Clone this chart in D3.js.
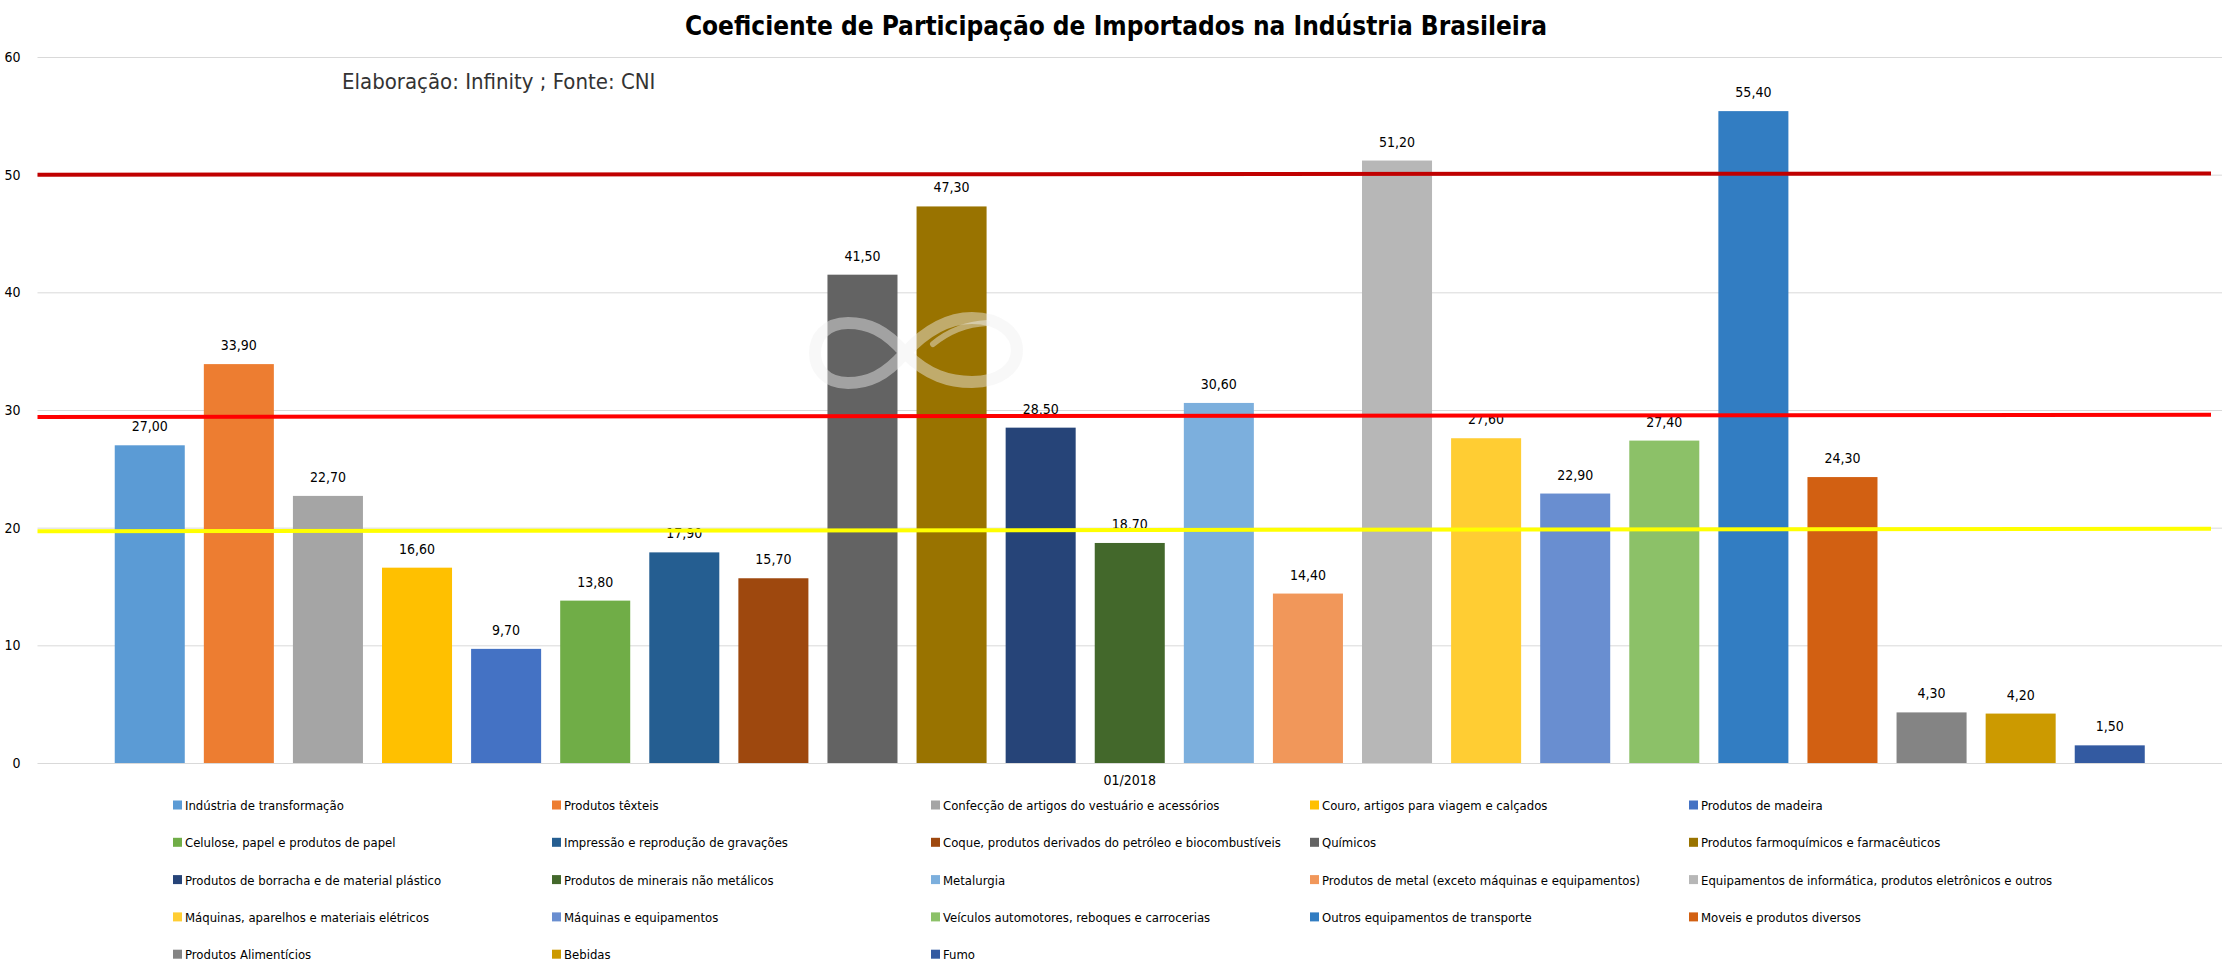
<!DOCTYPE html>
<html>
<head>
  <meta charset="utf-8">
  <title>Coeficiente de Participação de Importados</title>
  <script src="https://d3js.org/d3.v7.min.js"></script>
  <style>
    body { margin: 0; background: #fff; }
    text { font-family: "Liberation Sans Narrow", "DejaVu Sans Condensed", "Open Sans", sans-serif; }
  </style>
</head>
<body>
  <script>
    // data
    var categories = ["01/2018"];
    var seriesNames = [
      "Indústria de transformação", "Produtos têxteis", "Confecção de artigos do vestuário e acessórios",
      "Couro, artigos para viagem e calçados", "Produtos de madeira", "Celulose, papel e produtos de papel",
      "Impressão e reprodução de gravações", "Coque, produtos derivados do petróleo e biocombustíveis",
      "Químicos", "Produtos farmoquímicos e farmacêuticos", "Produtos de borracha e de material plástico",
      "Produtos de minerais não metálicos", "Metalurgia", "Produtos de metal (exceto máquinas e equipamentos)",
      "Equipamentos de informática, produtos eletrônicos e outros", "Máquinas, aparelhos e materiais elétricos",
      "Máquinas e equipamentos", "Veículos automotores, reboques e carrocerias", "Outros equipamentos de transporte",
      "Moveis e produtos diversos", "Produtos Alimentícios", "Bebidas", "Fumo"
    ];
    var seriesValues = [27.0, 33.9, 22.7, 16.6, 9.7, 13.8, 17.9, 15.7, 41.5, 47.3, 28.5, 18.7,
                        30.6, 14.4, 51.2, 27.6, 22.9, 27.4, 55.4, 24.3, 4.3, 4.2, 1.5];
    var seriesColors = ["#5B9BD5", "#ED7D31", "#A5A5A5", "#FFC000", "#4472C4", "#70AD47", "#255E91", "#9E480E",
                        "#636363", "#997300", "#264478", "#43682B", "#7CAFDD", "#F1975A", "#B7B7B7", "#FFCD33",
                        "#698ED0", "#8CC168", "#327DC2", "#D26012", "#848484", "#CC9A00", "#335AA1"];
    var yTicks = [0, 10, 20, 30, 40, 50, 60];
    // hand drawn reference lines (value at left end, value at right end)
    var refStart = [50.0, 29.4, 19.7];
    var refEnd = [50.1, 29.6, 19.9];
    var refColors = ["#C00000", "#FF0000", "#FFFF00"];

    var width = 2232, height = 969;
    var plotLeft = 37.5, plotRight = 2222, plotTop = 57, plotBottom = 763;

    var svg = d3.select("body").append("svg").attr("width", width).attr("height", height);

    var y = d3.scaleLinear().domain([0, 60]).range([plotBottom, plotTop]);
    var x0 = d3.scaleBand().domain(categories).range([plotLeft, plotRight]);
    var x1 = d3.scaleBand().domain(seriesNames).range([0, x0.bandwidth()])
      .paddingInner(0.214).paddingOuter(0.867);

    // title + source note
    svg.append("text").attr("x", 1116).attr("y", 35).attr("text-anchor", "middle")
      .style("font-size", "26px").style("font-weight", "bold").style("fill", "#000")
      .text("Coeficiente de Participação de Importados na Indústria Brasileira");
    svg.append("text").attr("x", 342).attr("y", 89)
      .style("font-size", "22px").style("fill", "#333")
      .text("Elaboração: Infinity ; Fonte: CNI");

    // y axis with gridlines
    var yAxis = svg.append("g").attr("transform", "translate(" + plotLeft + ",0)")
      .call(d3.axisLeft(y).tickValues(yTicks).tickSize(-(plotRight - plotLeft)).tickPadding(17).tickFormat(d3.format("d")));
    yAxis.select(".domain").remove();
    yAxis.selectAll("line").attr("stroke", "#D9D9D9");
    yAxis.selectAll("text").style("font-size", "14px").style("fill", "#000").attr("font-family", null);

    // bars
    var group = svg.append("g").selectAll("g").data(categories).enter().append("g")
      .attr("transform", d => "translate(" + x0(d) + ",0)");

    group.selectAll("rect")
      .data(seriesNames.map((n, i) => ({ name: n, value: seriesValues[i], color: seriesColors[i] })))
      .enter().append("rect")
      .attr("x", d => x1(d.name))
      .attr("y", d => y(d.value))
      .attr("width", x1.bandwidth())
      .attr("height", d => y(0) - y(d.value))
      .attr("fill", d => d.color);

    group.selectAll("text.lbl")
      .data(seriesNames.map((n, i) => ({ name: n, value: seriesValues[i] })))
      .enter().append("text").attr("class", "lbl")
      .attr("x", d => x1(d.name) + x1.bandwidth() / 2)
      .attr("y", d => y(d.value) - 14)
      .attr("text-anchor", "middle")
      .style("font-size", "14px").style("fill", "#000")
      .text(d => d3.format(".2f")(d.value).replace(".", ","));

    // category label
    svg.append("g").selectAll("text").data(categories).enter().append("text")
      .attr("x", d => x0(d) + x0.bandwidth() / 2).attr("y", 785)
      .attr("text-anchor", "middle").style("font-size", "14px").style("fill", "#000")
      .text(d => d);

    // watermark logo (whitish, half transparent)
    var logo = svg.append("g").attr("fill", "none").attr("stroke", "#EFEFEF")
      .attr("stroke-opacity", 0.45).attr("stroke-linecap", "round");
    logo.append("path").attr("stroke-width", 12)
      .attr("d", "M905,353 C885,330 868,323 848,323 C825,323 815,338 815,353 C815,368 825,383 848,383 C868,383 885,376 905,353 " +
                 "C928,328 950,318 972,318 C1000,318 1017,333 1017,350 C1017,368 1000,382 972,382 C950,382 928,376 905,353");
    logo.append("path").attr("stroke-width", 6)
      .attr("d", "M933,344 C950,330 967,324 987,323");

    // reference lines
    var xr = d3.scaleLinear().domain([0, 1]).range([plotLeft, 2211]);
    svg.append("g").selectAll("path").data(refColors).enter().append("path")
      .attr("d", (c, i) => d3.line()([[xr(0), y(refStart[i])], [xr(1), y(refEnd[i])]]))
      .attr("stroke", c => c).attr("stroke-width", 4).attr("fill", "none");

    // legend, five per row
    var legend = svg.append("g").selectAll("g").data(seriesNames).enter().append("g")
      .attr("transform", (d, i) => "translate(" + (173 + (i % 5) * 379) + "," + (805 + Math.floor(i / 5) * 37.3) + ")");
    legend.append("rect").attr("x", 0).attr("y", -4.5).attr("width", 9).attr("height", 9)
      .attr("fill", (d, i) => seriesColors[i]);
    legend.append("text").attr("x", 12).attr("y", 5)
      .style("font-size", "13px").style("fill", "#000")
      .text(d => d);
  </script>
</body>
</html>
